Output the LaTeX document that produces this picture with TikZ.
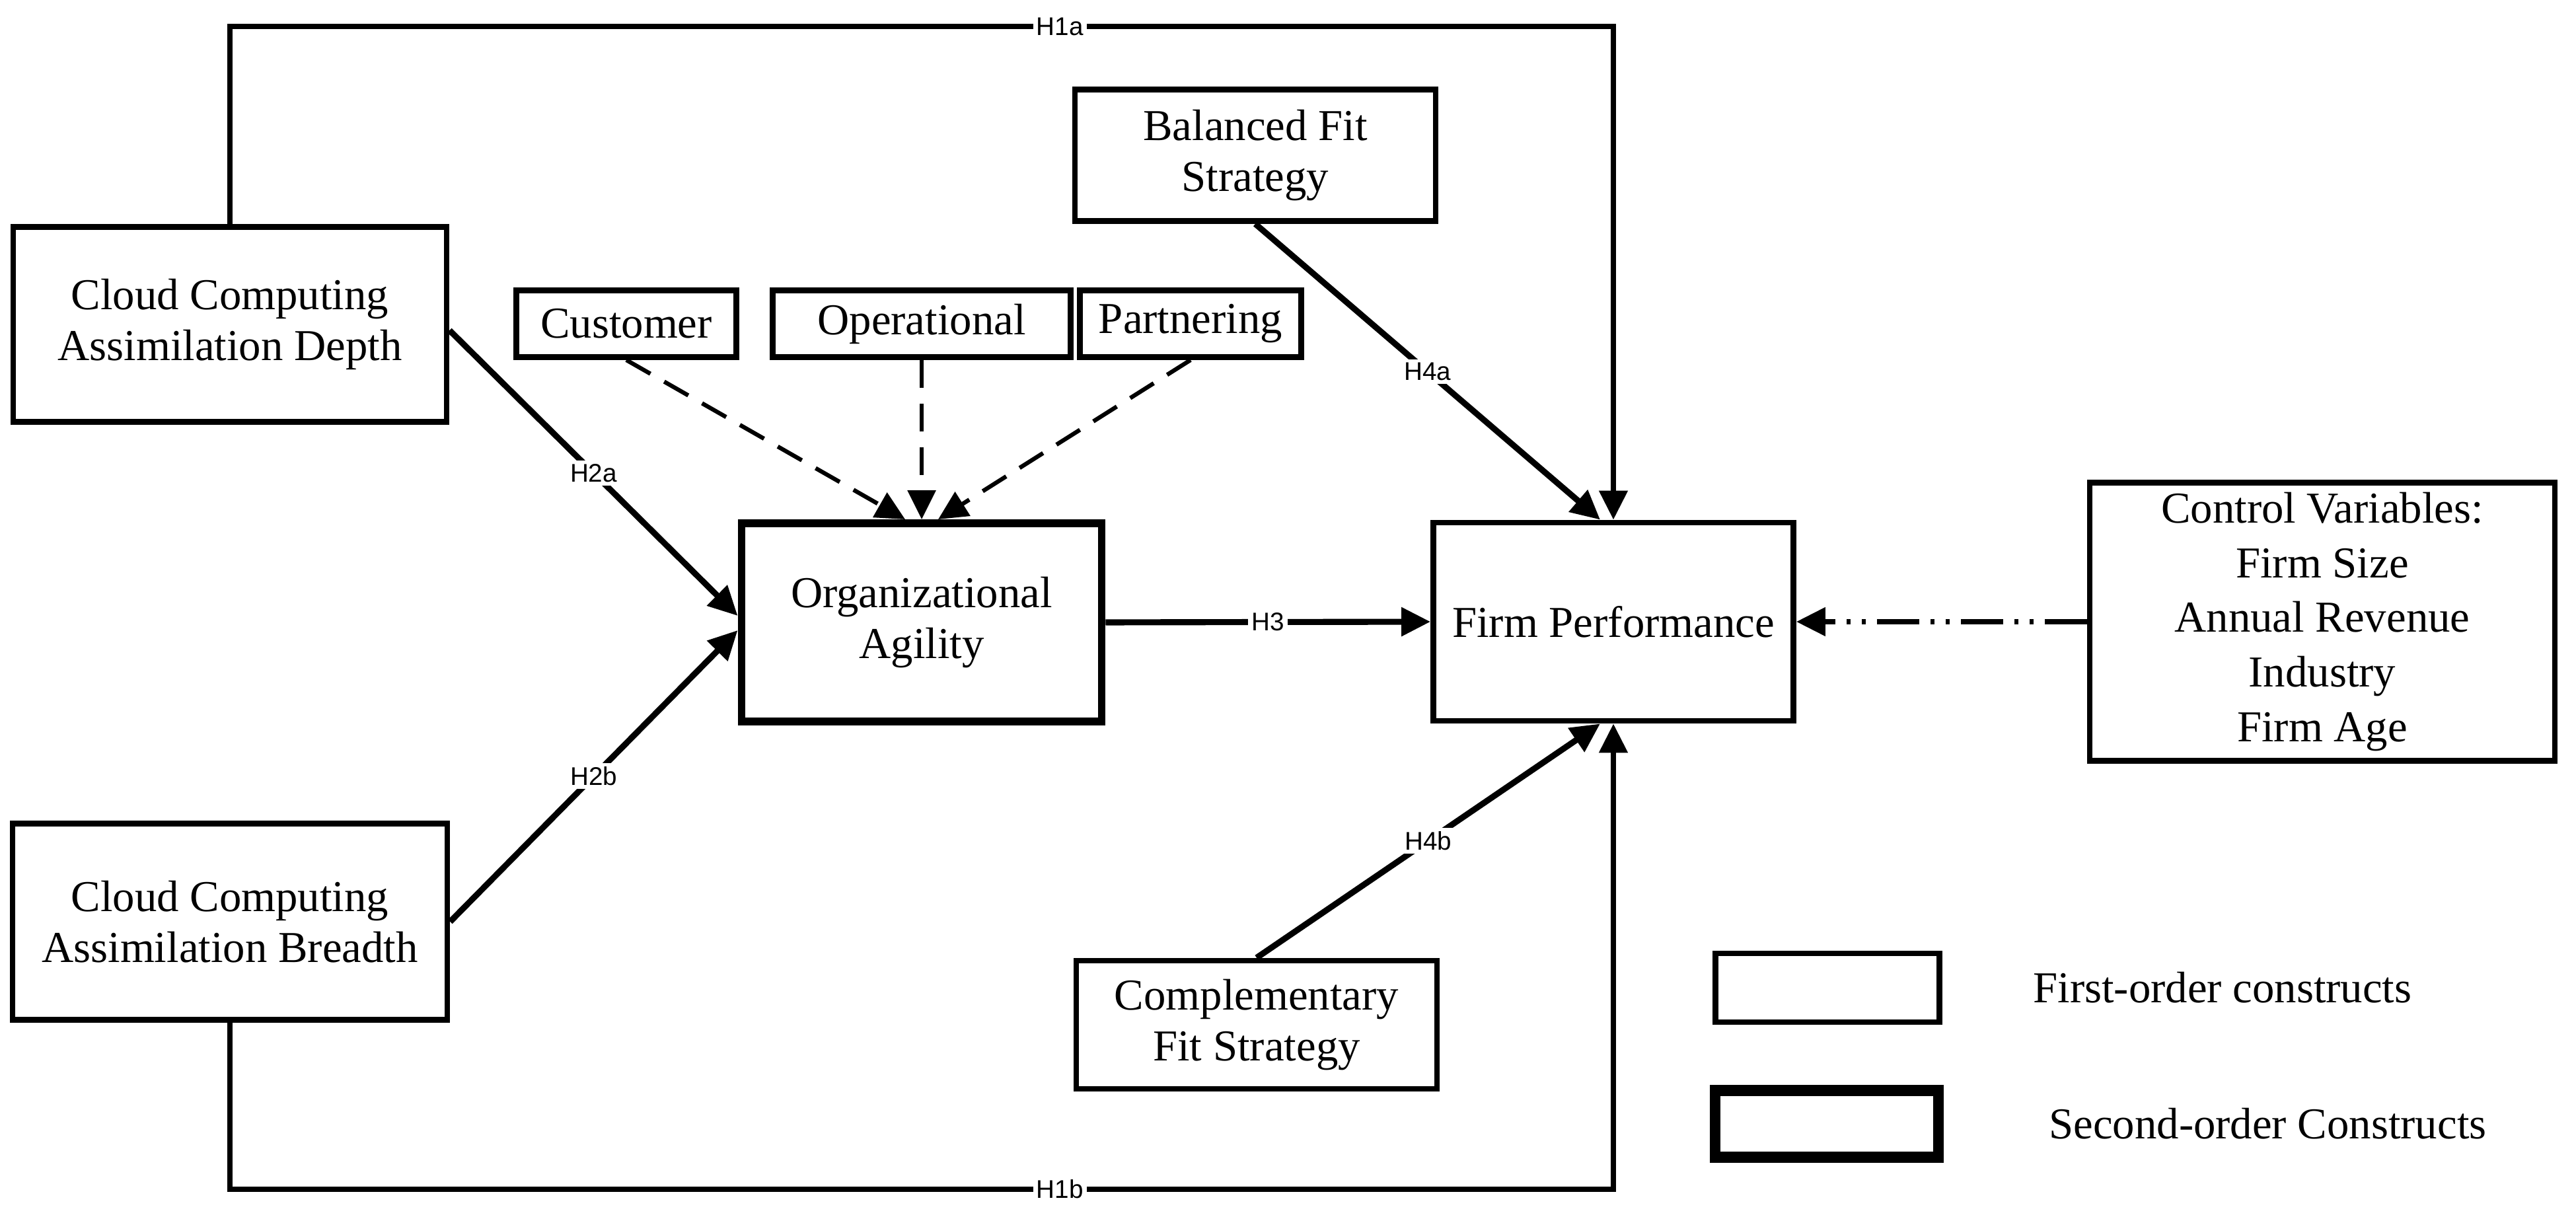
\documentclass[tikz,border=0pt]{standalone}
\usepackage{fontspec}
\setmainfont{Liberation Serif}
\newfontfamily\hypfont{Liberation Sans}
\usetikzlibrary{arrows.meta}
\usetikzlibrary{positioning}
\tikzset{>={Triangle[length=0.44cm,width=0.42cm]}}

\begin{document}
\begin{tikzpicture}[construct/.style={draw, line width=2.5pt, align=center, inner sep=0pt, font=\fontsize{19}{22}\selectfont},
	second/.style={construct, line width=3.4pt},
	hyp/.style={->, line width=2.6pt},
	dim/.style={->, line width=1.8pt, dash pattern=on 0.42cm off 0.24cm},
	hlabel/.style={fill=white, inner sep=1.5pt, font=\hypfont\fontsize{11}{12}\selectfont}]
		\useasboundingbox (0,0) rectangle (38.99,18.44);
		% constructs
		\node[construct, minimum width=6.56cm, minimum height=2.95cm] (CCAD) at (3.48,13.53) {Cloud Computing\\Assimilation Depth};
		\node[construct, minimum width=6.58cm, minimum height=2.97cm] (CCAB) at (3.48,4.49) {Cloud Computing\\Assimilation Breadth};
		\node[construct, minimum width=3.33cm, minimum height=1.01cm] (cust) at (9.48,13.54) {Customer};
		\node[construct, minimum width=4.51cm, minimum height=1.01cm] (oper) at (13.95,13.54) {Operational};
		\node[construct, minimum width=3.35cm, minimum height=1.01cm] (partner) at (18.02,13.54) {Partnering};
		\node[construct, minimum width=5.46cm, minimum height=1.99cm] (BFS) at (19.00,16.09) {Balanced Fit\\Strategy};
		\node[second, minimum width=5.45cm, minimum height=3.00cm] (OA) at (13.95,9.02) {Organizational\\Agility};
		\node[construct, minimum width=5.45cm, minimum height=3.00cm] (FP) at (24.42,9.03) {Firm Performance};
		\node[construct, minimum width=7.04cm, minimum height=4.21cm, font=\fontsize{19}{23.5}\selectfont] (CV) at (35.15,9.03) {Control Variables:\\Firm Size\\Annual Revenue\\Industry\\Firm Age};
		\node[construct, minimum width=5.46cm, minimum height=1.94cm] (CFS) at (19.02,2.93) {Complementary\\Fit Strategy};
		% legend
		\node[construct, minimum width=3.39cm, minimum height=1.04cm] (legfirst) at (27.66,3.49) {};
		\node[second, line width=4.8pt, minimum width=3.38cm, minimum height=1.01cm] (legsecond) at (27.65,1.43) {};
		\node[anchor=west, font=\fontsize{19}{22}\selectfont] (legfirsttxt) at (30.65,3.49) {First-order constructs};
		\node[anchor=west, font=\fontsize{19}{22}\selectfont] (legsecondtxt) at (30.89,1.43) {Second-order Constructs};
		% hypotheses
		\coordinate (topbend) at (3.48,18.04);
		\coordinate (bottombend) at (3.48,0.44);
		\draw[hyp, line width=2.3pt] (CCAD.north) -- (topbend) -| node[hlabel, pos=0.3] {H1a} (FP.north);
		\draw[hyp, line width=2.3pt] (CCAB.south) -- (bottombend) -| node[hlabel, pos=0.3] {H1b} (FP.south);
		\path[hyp]
			([yshift=-0.09cm]CCAD.east) edge node[hlabel] {H2a} ([yshift=0.1cm]OA.west)
			(CCAB.east) edge node[hlabel] {H2b} ([yshift=-0.12cm]OA.west)
			(OA.east) edge node[hlabel] {H3} (FP.west)
			(BFS.south) edge node[hlabel] {H4a} ([xshift=-0.2cm]FP.north)
			(CFS.north) edge node[hlabel] {H4b} ([xshift=-0.2cm]FP.south);
		\path[dim]
			(cust.south) edge ([xshift=-0.25cm]OA.north)
			(oper.south) edge (OA.north)
			(partner.south) edge ([xshift=0.25cm]OA.north);
		\draw[->, line width=2.3pt, dash pattern=on 0.64cm off 0.17cm on 0.06cm off 0.17cm on 0.06cm off 0.17cm] (CV.west) -- (FP.east);
	\end{tikzpicture}
\end{document}
